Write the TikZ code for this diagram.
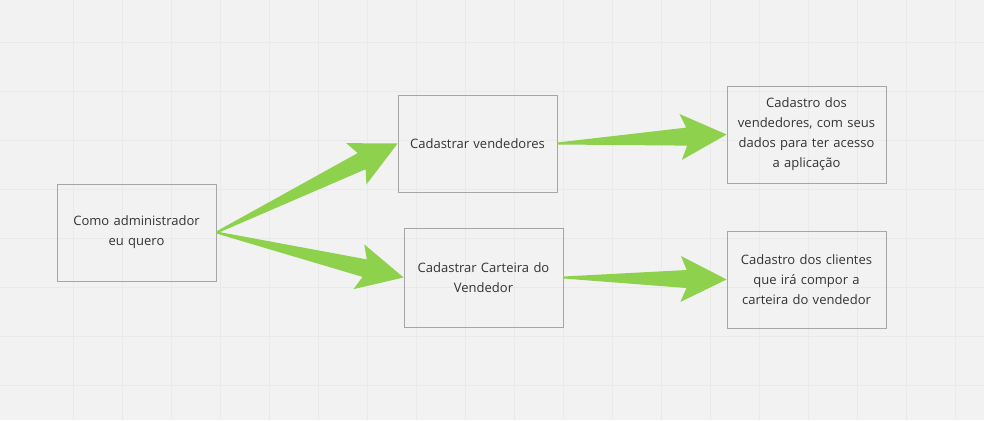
\documentclass[tikz,border=0pt]{standalone}
\usepackage{fontspec}
\setmainfont{Open Sans}
\usetikzlibrary{calc}
\definecolor{bg}{HTML}{F2F2F2}
\definecolor{gridc}{HTML}{EAEAEA}
\definecolor{boxc}{HTML}{A6A6A6}
\definecolor{arr}{HTML}{8DD14C}
\definecolor{txt}{HTML}{333333}
\tikzset{
  box/.style={draw=boxc,line width=0.8pt,minimum width=159pt,minimum height=97pt,inner sep=4pt,align=center,text width=140pt,font=\fontsize{13}{20}\selectfont,text=txt},
}
\newcommand\taper[2]{%
  \fill[arr] ($(#1)!1pt!90:(#2)$) -- ($($(#2)!40pt!(#1)$)!9pt!-90:(#1)$) -- ($($(#2)!46pt!(#1)$)!23pt!-90:(#1)$) -- (#2) -- ($($(#2)!46pt!(#1)$)!23pt!90:(#1)$) -- ($($(#2)!40pt!(#1)$)!9pt!90:(#1)$) -- ($(#1)!1pt!-90:(#2)$) -- cycle;}
\begin{document}
\begin{tikzpicture}[x=1pt,y=-1pt]
\fill[bg] (0,0) rectangle (984,420);
\useasboundingbox (0,0) rectangle (984,420);
\foreach \x in {73,122,...,984} \draw[gridc,line width=0.5pt] (\x,0) -- (\x,420);
\foreach \y in {42,91,...,420} \draw[gridc,line width=0.5pt] (0,\y) -- (984,\y);
\node[box] (a) at (136.5,232.5) {Como administrador\\eu quero};
\node[box] (b) at (477.5,143.5) {Cadastrar vendedores};
\node[box] (c) at (806.5,134.5) {Cadastro dos\\vendedores, com seus\\dados para ter acesso\\a aplicação};
\node[box,minimum height=99pt] (d) at (483.5,277.5) {Cadastrar Carteira do\\Vendedor};
\node[box] (e) at (806.5,279.5) {Cadastro dos clientes\\que irá compor a\\carteira do vendedor};
\coordinate (a1) at (a.east);
\coordinate (b1) at (b.west);
\coordinate (d1) at (d.west);
\coordinate (b2) at (b.east);
\coordinate (c1) at (c.west);
\coordinate (d2) at (d.east);
\coordinate (e1) at (e.west);
\taper{a1}{b1}
\taper{a1}{d1}
\taper{b2}{c1}
\taper{d2}{e1}
\end{tikzpicture}
\end{document}
